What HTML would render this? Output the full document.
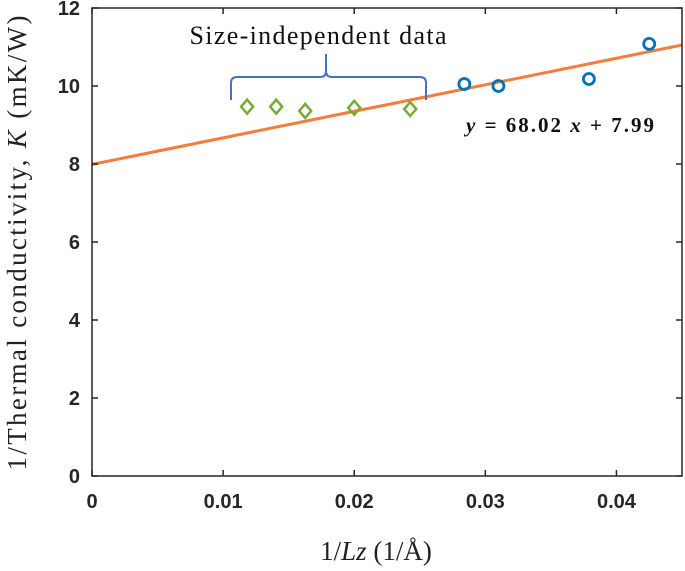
<!DOCTYPE html>
<html><head><meta charset="utf-8"><style>
body{margin:0;background:#fff;}
svg{display:block;font-family:"Liberation Serif",serif;}
</style></head><body>
<svg id="c" width="685" height="571"></svg>
<script>
const xTicks=[0,0.01,0.02,0.03,0.04];
const xTickLabels=["0","0.01","0.02","0.03","0.04"];
const yTicks=[0,2,4,6,8,10,12];
const yTickLabels=["0","2","4","6","8","10","12"];
const indepX=[0.01183,0.01405,0.01626,0.0200,0.02427];
const indepY=[9.47,9.47,9.36,9.44,9.41];
const depX=[0.0284,0.0310,0.0379,0.0425];
const depY=[10.05,10.0,10.18,11.08];
const fitSlope=68.02, fitIntercept=7.99;
const L=92,R=682,T=8,B=476;
const sx=v=>L+(v-0)/(0.045)*(R-L);
const sy=v=>B-(v/12)*(B-T);
const NS="http://www.w3.org/2000/svg";
const svg=document.getElementById('c');
function mk(t,a,p){const e=document.createElementNS(NS,t);for(const k in a)e.setAttribute(k,a[k]);(p||svg).appendChild(e);return e;}
let fl=mk('line',{x1:sx(0),y1:sy(fitIntercept),x2:sx(0.045),y2:sy(fitIntercept+fitSlope*0.045),stroke:'#f47c3c','stroke-width':3});


let bx=mk('rect',{x:L,y:T,width:R-L,height:B-T,fill:'none',stroke:'#262626','stroke-width':1.5});


xTicks.forEach((v,i)=>{
  mk('line',{x1:sx(v),x2:sx(v),y1:B,y2:B-6,stroke:'#262626','stroke-width':1.5});
  mk('line',{x1:sx(v),x2:sx(v),y1:T,y2:T+6,stroke:'#262626','stroke-width':1.5});
  let t=mk('text',{x:sx(v),y:B+32,'text-anchor':'middle','font-size':20,'font-weight':'bold','font-family':'Liberation Sans, sans-serif',fill:'#262626'});
  t.textContent=xTickLabels[i];
  
  
});
yTicks.forEach((v,i)=>{
  mk('line',{x1:L,x2:L+6,y1:sy(v),y2:sy(v),stroke:'#262626','stroke-width':1.5});
  mk('line',{x1:R,x2:R-6,y1:sy(v),y2:sy(v),stroke:'#262626','stroke-width':1.5});
  let t=mk('text',{x:L-12,y:sy(v)+7,'text-anchor':'end','font-size':20,'font-weight':'bold','font-family':'Liberation Sans, sans-serif',fill:'#262626'});
  t.textContent=yTickLabels[i];
  
  
});
indepX.forEach((x,i)=>{
  const cx=sx(x),cy=sy(indepY[i]);
  let d=mk('polygon',{points:`${cx},${cy-7} ${cx+6},${cy} ${cx},${cy+7} ${cx-6},${cy}`,fill:'none',stroke:'#77ac30','stroke-width':2.5});
  
  
});
depX.forEach((x,i)=>{
  let c=mk('circle',{cx:sx(x),cy:sy(depY[i]),r:5.5,fill:'none',stroke:'#0072bd','stroke-width':2.8});
  
  
});
let br=mk('path',{d:'M231,100 L231,83 Q231,77 237,77 L320,77 Q326,77 326,71 L326,54 M326,71 Q326,77 332,77 L420,77 Q426,77 426,83 L426,100',fill:'none',stroke:'#4472c4','stroke-width':2});


let a=mk('text',{x:318,y:44,'text-anchor':'middle','font-size':26,fill:'#111',textLength:257});
a.textContent='Size-independent data';


let eq=mk('text',{x:466,y:132,'font-size':21,'font-weight':'bold',fill:'#111',textLength:188});
eq.innerHTML='<tspan font-style="italic">y</tspan> = 68.02 <tspan font-style="italic">x</tspan> + 7.99';


let xl=mk('text',{x:376,y:560,'text-anchor':'middle','font-size':27,fill:'#222'});
xl.innerHTML='1/<tspan font-style="italic">Lz</tspan> (1/Å)';


let yl=mk('text',{x:0,y:0,'text-anchor':'middle','font-size':27,fill:'#222',textLength:455,transform:'translate(26,243) rotate(-90)'});
yl.innerHTML='1/Thermal conductivity, <tspan font-style="italic">K</tspan> (mK/W)';


</script>
</body></html>
